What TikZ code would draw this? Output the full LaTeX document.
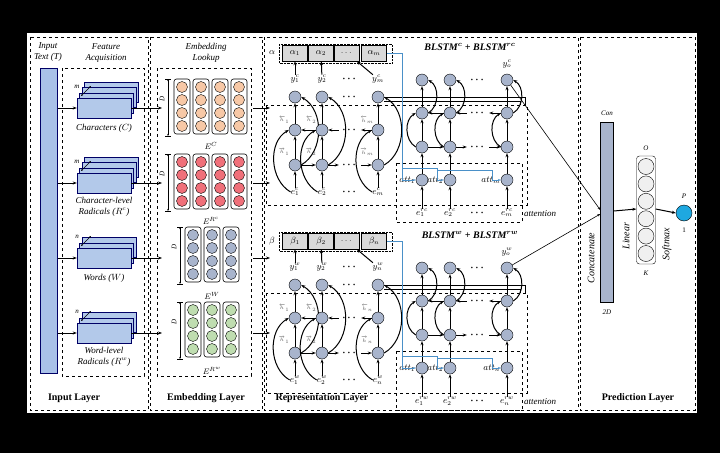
\documentclass[tikz,border=0pt]{standalone}
\usepackage{fontspec}
\setmainfont{Liberation Serif}
\usepackage{amsmath}
\usetikzlibrary{arrows.meta,positioning}
\definecolor{cardblue}{HTML}{B3C9EA}
\definecolor{barblue}{HTML}{A9C1E8}
\definecolor{cellgray}{HTML}{A8B4CC}
\definecolor{embor}{HTML}{F7C8A6}
\definecolor{embred}{HTML}{F0707A}
\definecolor{embgr}{HTML}{BFDDB0}
\definecolor{attblue}{HTML}{4A90C8}
\definecolor{pcyan}{HTML}{1EA8E0}
\tikzset{
  panel/.style={dashed, line width=0.6pt},
  arr/.style={-{Stealth[length=4pt]}, line width=1pt},
  thin arr/.style={-{Stealth[length=3pt]}, line width=0.6pt},
  cell/.style={circle, draw, fill=cellgray, minimum size=12pt, inner sep=0pt},
  embc/.style={circle, draw, minimum size=11pt, inner sep=0pt},
  wcell/.style={draw, fill=gray!30, minimum width=25pt, minimum height=16pt, inner sep=0pt, font=\small},
  card/.style={draw=blue!40!black, fill=cardblue, minimum width=54pt, minimum height=20pt, inner sep=0pt},
  lbl/.style={font=\small\itshape, align=center, inner sep=0pt},
  vlbl/.style={inner sep=0pt, font=\small},
  hl/.style={font=\tiny, text=gray!70!black, inner sep=0pt},
}
% stack of cards: name, y, number of back cards, size letter
\newcommand\fstack[4]{%
  \foreach \k in {#3,...,1}
    \node[card] at ({104+2.5*\k},{#2-5.3*\k}) {};
  \node[card] (#1) at (104,#2) {};
  \draw[{Stealth[length=2pt]}-{Stealth[length=2pt]}, line width=0.5pt] (81,#2-12) -- (91,#2-22);
  \node[font=\scriptsize\itshape] at (77,#2-21) {#4};
}
% embedding group: y0, colour, columns, x0, dx
\newcommand\embgroup[5]{%
  \foreach \i in {1,...,#3} {
    \draw[rounded corners=2.5pt, fill=white, line width=0.6pt] ({#4+(\i-1)*#5-8},{#1-8}) rectangle ++(16,55);
    \foreach \j in {0,...,3}
      \node[embc, fill=#2] at ({#4+(\i-1)*#5},{#1+\j*13}) {};
  }
}
% representation block: shift, sup, sup2, greek, index
\newcommand\repblock[5]{%
\begin{scope}[yshift=-#1pt]
  \node[font=\small] at (272,53) {$#4$};
  \draw[densely dotted] (279,44) rectangle (392,63);
  \foreach \x/\t [count=\i] in {295/{#4_1},321/{#4_2},347/{\dots},374/{#4_{#5}}}
    \node[wcell] (w#2\i) at (\x,53) {$\t$};
  \draw[panel] (266,105) rectangle (527,205);
  \coordinate (boxne#2) at (527,105);
  \draw[panel] (396,163) rectangle (522,222);
  \node[font=\small\itshape, anchor=west, inner sep=1pt] at (523,214) {attention};
  % left BLSTM
  \foreach \x/\t [count=\i] in {295/1,322/2,378/#5} {
    \node[cell] (o#2\i) at (\x,97) {};
    \node[cell] (b#2\i) at (\x,130) {};
    \node[cell] (f#2\i) at (\x,165) {};
    \node[vlbl] (e#2\i) at (\x,192) {$e^{#2}_{\t}$};
    \node[vlbl] (y#2\i) at (\x,79) {$y^{#2}_{\t}$};
    \node[hl] at (\x-11,120) {$\overleftarrow{h}_{\t}$};
    \node[hl] at (\x-11,152) {$\overrightarrow{h}_{\t}$};
    \draw[arr] (e#2\i) -- (f#2\i);
    \draw[arr] (f#2\i) -- (b#2\i);
    \draw[arr] (b#2\i) -- (o#2\i);
    \draw[arr] (y#2\i) -- (w#2\i);
    \draw[arr] (e#2\i.west) to[out=150, in=210] (b#2\i.west);
    \draw[arr] (f#2\i.east) to[out=30, in=-30] (o#2\i.east);
  }
  \node (od#2) at (350,97) {$\boldsymbol{\cdots}$};
  \node (bd#2) at (350,130) {$\boldsymbol{\cdots}$};
  \node (fd#2) at (350,165) {$\boldsymbol{\cdots}$};
  \node at (350,79) {$\boldsymbol{\cdots}$};
  \node at (350,192) {$\boldsymbol{\cdots}$};
  \draw[arr] (f#21) -- (f#22);
  \draw[arr] (f#22) -- (fd#2);
  \draw[arr] (fd#2) -- (f#23);
  \draw[arr] (b#23) -- (bd#2);
  \draw[arr] (bd#2) -- (b#22);
  \draw[arr] (b#22) -- (b#21);
  % right BLSTM
  \foreach \x/\t [count=\i] in {422/1,450/2,507/#5} {
    \node[cell] (p#2\i) at (\x,80) {};
    \node[cell] (q#2\i) at (\x,113) {};
    \node[cell] (r#2\i) at (\x,147) {};
    \node[cell] (a#2\i) at (\x,180) {};
    \node[vlbl] (g#2\i) at (\x,213) {$e^{#3}_{\t}$};
    \node[anchor=east, inner sep=0.5pt, font=\small] at (a#2\i.west) {$att_{\t}$};
    \draw[arr] (g#2\i) -- (a#2\i);
    \draw[arr] (a#2\i) -- (r#2\i);
    \draw[arr] (r#2\i) -- (q#2\i);
    \draw[arr] (q#2\i) -- (p#2\i);
    \draw[arr] (r#2\i.west) to[out=150, in=210] (q#2\i.west);
    \draw[arr] (q#2\i.east) to[out=30, in=-30] (p#2\i.east);
  }
  \node (pd#2) at (478,80) {$\boldsymbol{\cdots}$};
  \node (qd#2) at (478,113) {$\boldsymbol{\cdots}$};
  \node (rd#2) at (478,147) {$\boldsymbol{\cdots}$};
  \node at (478,213) {$\boldsymbol{\cdots}$};
  \draw[arr] (r#21) -- (r#22);
  \draw[arr] (r#22) -- (rd#2);
  \draw[arr] (rd#2) -- (r#23);
  \draw[arr] (q#23) -- (qd#2);
  \draw[arr] (qd#2) -- (q#22);
  \draw[arr] (q#22) -- (q#21);
  \node[vlbl] at (507,64) {$y^{#2}_{o}$};
  \node[font=\bfseries\itshape, inner sep=0pt] at (470,47) {BLSTM$^{\boldsymbol{#2}}$ + BLSTM$^{\boldsymbol{#3}}$};
  \draw[line width=0.7pt] (o#23.east) -- (525,97) -- (525,105);
  \draw[line width=0.5pt] (o#23.east) ++(0,4) -- (520,101) -- (520,105);
  % attention weights to att cells
  \draw[attblue, line width=0.8pt, -{Stealth[length=3pt]}] (w#24.east) -- (402,53) |- (a#21.west);
  \draw[attblue, line width=0.8pt, -{Stealth[length=3pt]}] (402,168) -| (437,180) -- (a#22.west);
  \draw[attblue, line width=0.8pt, -{Stealth[length=3pt]}] (437,170) -- (492,170) |- (a#23.west);
\end{scope}
}
\begin{document}
\begin{tikzpicture}[x=1pt, y=-1pt]
  \useasboundingbox (0,0) rectangle (720,453);
  \fill[black] (0,0) rectangle (720,453);
  \fill[white] (27,33) rectangle (697,413);
  % panels
  \draw[panel] (30,37) rectangle (148,410);
  \draw[panel] (150,37) rectangle (262,410);
  \draw[panel] (264,37) rectangle (578,410);
  \draw[panel] (580,37) rectangle (695,410);
  \draw[panel] (62,68) rectangle (144,376);
  \draw[panel] (157,68) rectangle (251,376);
  \node[font=\bfseries] at (74,398) {Input Layer};
  \node[font=\bfseries] at (206,398) {Embedding Layer};
  \node[font=\bfseries] at (322,398) {Representation Layer};
  \node[font=\bfseries] at (638,398) {Prediction Layer};
  % input layer
  \node[lbl] at (48,52) {Input\\Text (T)};
  \node[lbl] at (106,53) {Feature\\Acquisition};
  \node[draw=blue!40!black, fill=barblue, minimum width=17pt, minimum height=305pt, inner sep=0pt] (txt) at (49,221) {};
  \fstack{chars}{108}{3}{m}
  \fstack{crad}{183}{3}{m}
  \fstack{words}{258}{2}{n}
  \fstack{wrad}{333}{2}{n}
  \node[lbl] at (104,128) {Characters ($C$)};
  \node[lbl] at (104,207) {Character-level\\Radicals ($R^c$)};
  \node[lbl] at (104,278) {Words ($W$)};
  \node[lbl] at (104,357) {Word-level\\Radicals ($R^w$)};
  % embedding layer
  \node[lbl] at (206,53) {Embedding\\Lookup};
  \embgroup{87}{embor}{4}{182}{19}
  \embgroup{162}{embred}{4}{182}{19}
  \embgroup{235}{cellgray}{3}{193}{19}
  \embgroup{310}{embgr}{3}{193}{19}
  \node[font=\footnotesize] at (211,146) {$E^{C}$};
  \node[font=\footnotesize] at (211,221) {$E^{R^c}$};
  \node[font=\footnotesize] at (212,296) {$E^{W}$};
  \node[font=\footnotesize] at (212,371) {$E^{R^w}$};
  \foreach \ya/\xa in {79/168,154/168,227/180,302/180} {
    \draw[{Stealth[length=2pt]}-{Stealth[length=2pt]}, line width=0.5pt] (\xa,\ya) -- (\xa,\ya+57);
    \draw[line width=0.5pt] (\xa-3,\ya) -- (\xa+3,\ya) (\xa-3,\ya+57) -- (\xa+3,\ya+57);
    \node[font=\scriptsize\itshape, rotate=90] at (\xa-6,\ya+20) {D};
  }
  \foreach \n/\y in {chars/108,crad/183,words/258,wrad/333} {
    \coordinate (ein\n) at (162,\y);
    \coordinate (eout\n) at (253,\y);
    \coordinate (rin\n) at (270,\y);
    \draw[arr] (txt.east |- \n.west) -- (\n.west);
    \draw[arr] (\n.east) -- (ein\n);
    \draw[arr] (eout\n) -- (rin\n);
  }
  % representation layer
  \repblock{0}{c}{rc}{\alpha}{m}
  \repblock{188}{w}{rw}{\beta}{n}
  % prediction layer
  \node[draw, fill=cellgray, minimum width=13pt, minimum height=180pt, inner sep=0pt] (con) at (607,212) {};
  \node[font=\scriptsize\itshape, above=3pt of con] {Con};
  \node[font=\scriptsize\itshape, below=4pt of con] {2D};
  \node[font=\itshape, rotate=90] at (591,258) {Concatenate};
  \draw[thin arr] (pc3) -- ([yshift=2pt]con.west);
  \draw[thin arr] (pw3) -- ([yshift=-2pt]con.west);
  \node[draw, rounded corners=3pt, minimum width=19pt, minimum height=108pt, inner sep=0pt] (outcol) at (646,210) {};
  \foreach \j in {0,...,5}
    \node[embc, fill=gray!12, minimum size=16pt] at (646,{166.5+17.4*\j}) {};
  \node[font=\scriptsize\itshape, above=2pt of outcol] {O};
  \node[font=\scriptsize\itshape, below=3pt of outcol] {K};
  \node[font=\itshape, rotate=90] at (626,236) {Linear};
  \node[font=\itshape, rotate=90] at (667,244) {Softmax};
  \node[circle, draw, fill=pcyan, minimum size=16pt, inner sep=0pt] (prob) at (684,213) {};
  \node[font=\scriptsize\itshape, above=3pt of prob] {P};
  \node[font=\scriptsize, below=3pt of prob] {1};
  \draw[arr] ([yshift=1pt]con.east) -- ([yshift=1pt]outcol.west);
  \draw[arr] ([yshift=1pt]outcol.east) -- (prob.west);
\end{tikzpicture}
\end{document}
